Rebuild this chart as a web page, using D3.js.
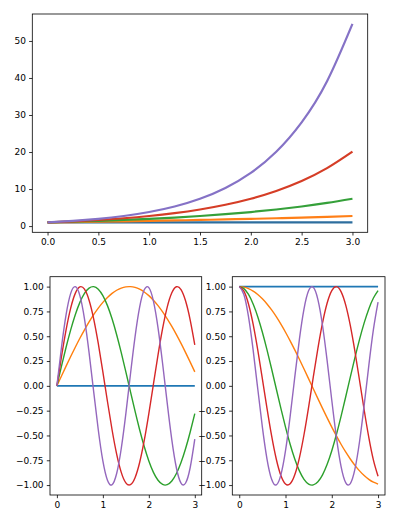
<!DOCTYPE html>
<html>
<head>
<meta charset="utf-8">
<script src="https://cdn.jsdelivr.net/npm/d3@7"></script>
<style>
  html, body { margin: 0; padding: 0; background: #ffffff; }
  svg { display: block; }
  text { font-family: "DejaVu Sans", sans-serif; }
</style>
</head>
<body>
<div id="chart"></div>
<script>
// Top panel: exponential curves sampled every 0.25
const expX = [0, 0.25, 0.5, 0.75, 1, 1.25, 1.5, 1.75, 2, 2.25, 2.5, 2.75, 3];
const expBlue = [1, 1, 1, 1, 1, 1, 1, 1, 1, 1, 1, 1, 1];
const expOrange = [1.000, 1.087, 1.181, 1.284, 1.396, 1.517, 1.649, 1.792, 1.948, 2.117, 2.301, 2.501, 2.718];
const expGreen = [1.000, 1.181, 1.396, 1.649, 1.948, 2.301, 2.718, 3.211, 3.794, 4.482, 5.294, 6.254, 7.389];
const expRed = [1.000, 1.284, 1.649, 2.117, 2.718, 3.490, 4.482, 5.755, 7.389, 9.488, 12.18, 15.64, 20.09];
const expPurple = [1.000, 1.396, 1.948, 2.718, 3.794, 5.294, 7.389, 10.31, 14.39, 20.09, 28.03, 39.12, 54.60];

// Bottom panels: waves sampled every 0.1
const waveX = [0, 0.1, 0.2, 0.3, 0.4, 0.5, 0.6, 0.7, 0.8, 0.9, 1.0, 1.1, 1.2, 1.3, 1.4, 1.5,
  1.6, 1.7, 1.8, 1.9, 2.0, 2.1, 2.2, 2.3, 2.4, 2.5, 2.6, 2.7, 2.8, 2.9, 3.0];

const sinBlue = [0, 0, 0, 0, 0, 0, 0, 0, 0, 0, 0, 0, 0, 0, 0, 0, 0, 0, 0, 0, 0, 0, 0, 0, 0, 0, 0, 0, 0, 0, 0];
const sinOrange = [0, .0998, .1987, .2955, .3894, .4794, .5646, .6442, .7174, .7833, .8415, .8912, .9320,
  .9636, .9854, .9975, .9996, .9917, .9738, .9463, .9093, .8632, .8085, .7457, .6755, .5985, .5155,
  .4274, .3350, .2392, .1411];
const sinGreen = [0, .1987, .3894, .5646, .7174, .8415, .9320, .9854, .9996, .9738, .9093, .8085, .6755,
  .5155, .3350, .1411, -.0584, -.2555, -.4425, -.6119, -.7568, -.8716, -.9516, -.9937, -.9962, -.9589,
  -.8835, -.7728, -.6313, -.4646, -.2794];
const sinRed = [0, .2955, .5646, .7833, .9320, .9975, .9738, .8632, .6755, .4274, .1411, -.1577, -.4425,
  -.6878, -.8716, -.9775, -.9962, -.9258, -.7728, -.5507, -.2794, .0168, .3115, .5784, .7937, .9380,
  .9985, .9699, .8546, .6630, .4121];
const sinPurple = [0, .3894, .7174, .9320, .9996, .9093, .6755, .3350, -.0584, -.4425, -.7568, -.9516,
  -.9962, -.8835, -.6313, -.2794, .1165, .4941, .7937, .9679, .9894, .8546, .5849, .2229, -.1743, -.5440,
  -.8278, -.9809, -.9792, -.8228, -.5366];

const cosBlue = [1, 1, 1, 1, 1, 1, 1, 1, 1, 1, 1, 1, 1, 1, 1, 1, 1, 1, 1, 1, 1, 1, 1, 1, 1, 1, 1, 1, 1, 1, 1];
const cosOrange = [1, .9950, .9801, .9553, .9211, .8776, .8253, .7648, .6967, .6216, .5403, .4536, .3624,
  .2675, .1700, .0707, -.0292, -.1288, -.2272, -.3233, -.4161, -.5048, -.5885, -.6663, -.7374, -.8011,
  -.8569, -.9041, -.9422, -.9710, -.9900];
const cosGreen = [1, .9801, .9211, .8253, .6967, .5403, .3624, .1700, -.0292, -.2272, -.4161, -.5885,
  -.7374, -.8569, -.9422, -.9900, -.9983, -.9668, -.8968, -.7910, -.6536, -.4903, -.3073, -.1122, .0875,
  .2837, .4685, .6347, .7756, .8855, .9602];
const cosRed = [1, .9553, .8253, .6216, .3624, .0707, -.2272, -.5048, -.7374, -.9041, -.9900, -.9875,
  -.8968, -.7259, -.4903, -.2108, .0875, .3780, .6347, .8347, .9602, .9999, .9502, .8157, .6084, .3466,
  .0540, -.2435, -.5193, -.7481, -.9111];
const cosPurple = [1, .9211, .6967, .3624, -.0292, -.4161, -.7374, -.9422, -.9983, -.8968, -.6536, -.3073,
  .0875, .4685, .7756, .9602, .9932, .8694, .6084, .2513, -.1455, -.5193, -.8111, -.9748, -.9847, -.8391,
  -.5610, -.1944, .2034, .5683, .8440];

const expTicksX = [0, 0.5, 1, 1.5, 2, 2.5, 3];
const expTicksY = [0, 10, 20, 30, 40, 50];
const waveTicksX = [0, 1, 2, 3];
const waveTicksY = [-1, -0.75, -0.5, -0.25, 0, 0.25, 0.5, 0.75, 1];

const topColors = ["#2d6e9e", "#ff7f17", "#35a03a", "#d53d26", "#8572c6"];
const waveColors = ["#1f77b4", "#ff7f0e", "#2ca02c", "#d62728", "#9467bd"];

const width = 406;
const height = 516;
const fontSize = 9;
const tickLength = 3.2;

const svg = d3.select("#chart")
  .append("svg")
  .attr("width", width)
  .attr("height", height);

function formatTick(decimals) {
  return (value) => {
    const text = Math.abs(value).toFixed(decimals);
    return value < 0 ? `\u2212${text}` : text;
  };
}

function drawPanel(box, options) {
  const x = d3.scaleLinear().domain(options.xDomain).range([box.left, box.right]);
  const y = d3.scaleLinear().domain(options.yDomain).range([box.bottom, box.top]);
  const group = svg.append("g");

  const line = d3.line()
    .x((d) => x(d[0]))
    .y((d) => y(d[1]))
    .curve(d3.curveNatural);

  options.series.forEach((values, index) => {
    group.append("path")
      .datum(options.xs.map((xv, i) => [xv, values[i]]))
      .attr("d", line)
      .attr("fill", "none")
      .attr("stroke", options.colors[index])
      .attr("stroke-width", options.widths[index])
      .attr("stroke-linejoin", "round")
      .attr("stroke-linecap", "butt");
  });

  group.append("g")
    .attr("transform", `translate(0,${box.bottom})`)
    .call(d3.axisBottom(x)
      .tickValues(options.xTicks)
      .tickFormat(options.xFormat)
      .tickSize(tickLength)
      .tickPadding(3.2))
    .call((g) => g.select(".domain").remove())
    .call((g) => g.selectAll("line").attr("stroke", "#000").attr("stroke-width", 0.8))
    .call((g) => g.selectAll("text")
      .attr("fill", "#000")
      .style("font-size", `${fontSize}px`)
      .style("font-family", "DejaVu Sans"));

  group.append("g")
    .attr("transform", `translate(${box.left},0)`)
    .call(d3.axisLeft(y)
      .tickValues(options.yTicks)
      .tickFormat(options.yFormat)
      .tickSize(tickLength)
      .tickPadding(3.2))
    .call((g) => g.select(".domain").remove())
    .call((g) => g.selectAll("line").attr("stroke", "#000").attr("stroke-width", 0.8))
    .call((g) => g.selectAll("text")
      .attr("fill", "#000")
      .style("font-size", `${fontSize}px`)
      .style("font-family", "DejaVu Sans"));

  group.append("rect")
    .attr("x", box.left)
    .attr("y", box.top)
    .attr("width", box.right - box.left)
    .attr("height", box.bottom - box.top)
    .attr("fill", "none")
    .attr("stroke", "#000")
    .attr("stroke-width", 0.8);
}

drawPanel({ left: 32.3, right: 367.7, top: 14, bottom: 232.3 }, {
  xs: expX,
  series: [expBlue, expOrange, expGreen, expRed, expPurple],
  colors: topColors,
  widths: [2.2, 2.2, 2.2, 2.2, 2.2],
  xDomain: [-0.15, 3.15],
  yDomain: [-1.68, 57.28],
  xTicks: expTicksX,
  yTicks: expTicksY,
  xFormat: formatTick(1),
  yFormat: formatTick(0)
});

drawPanel({ left: 50, right: 201.7, top: 276.7, bottom: 495 }, {
  xs: waveX,
  series: [sinBlue, sinOrange, sinGreen, sinRed, sinPurple],
  colors: waveColors,
  widths: [1.9, 1.4, 1.4, 1.4, 1.4],
  xDomain: [-0.15, 3.15],
  yDomain: [-1.1, 1.1],
  xTicks: waveTicksX,
  yTicks: waveTicksY,
  xFormat: formatTick(0),
  yFormat: formatTick(2)
});

drawPanel({ left: 232.3, right: 385, top: 276.7, bottom: 495 }, {
  xs: waveX,
  series: [cosBlue, cosOrange, cosGreen, cosRed, cosPurple],
  colors: waveColors,
  widths: [1.9, 1.4, 1.4, 1.4, 1.4],
  xDomain: [-0.15, 3.15],
  yDomain: [-1.1, 1.1],
  xTicks: waveTicksX,
  yTicks: waveTicksY,
  xFormat: formatTick(0),
  yFormat: formatTick(2)
});
</script>
</body>
</html>
